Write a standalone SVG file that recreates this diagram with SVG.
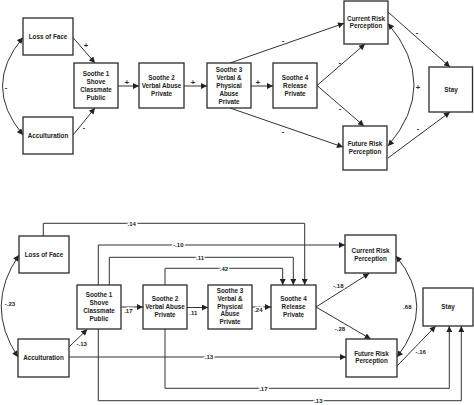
<svg xmlns="http://www.w3.org/2000/svg" width="474" height="405" viewBox="0 0 474 405">
<style>
.box{fill:#fff;stroke:#2b2b2b;stroke-width:1.3}
.t{font-family:"Liberation Sans",Arial,sans-serif;font-weight:bold;font-size:6.3px;fill:#222;text-anchor:middle}
.c{fill:none;stroke:#333;stroke-width:1}
.a{marker-end:url(#ah)}
.d{marker-end:url(#ah);marker-start:url(#ah)}
.l{font-family:"Liberation Sans",Arial,sans-serif;font-weight:bold;font-size:6px;fill:#222;text-anchor:middle;stroke:#fff;stroke-width:3;paint-order:stroke}
.s{font-family:"Liberation Sans",Arial,sans-serif;font-weight:bold;font-size:7.5px;fill:#222;text-anchor:middle}
</style>
<defs>
<marker id="ah" viewBox="0 0 10 10" refX="10" refY="5" markerWidth="8" markerHeight="6" markerUnits="userSpaceOnUse" orient="auto-start-reverse">
<path d="M0,0 L10,5 L0,10 z" fill="#222"/>
</marker>
</defs>
<rect width="474" height="405" fill="#fff"/>

<g id="connectors">
<!-- top -->
<path class="c d" d="M23,37.5 Q-18,86 23,135"/>
<path class="c a" d="M73,37.5 L95,63"/>
<path class="c a" d="M73,135 L95,108"/>
<path class="c a" d="M118,86 H139"/>
<path class="c a" d="M184,86 H207"/>
<path class="c a" d="M251,86 H273"/>
<path class="c a" d="M230,63 L344,23.3"/>
<path class="c a" d="M230,108 L343,147"/>
<path class="c a" d="M317,85.5 L365,44"/>
<path class="c a" d="M317,85.5 L364,126"/>
<path class="c a" d="M388,12 L450,67"/>
<path class="c a" d="M388,158 L450,112"/>
<path class="c d" d="M388,23.5 Q440,85 388,146"/>
<!-- bottom -->
<path class="c d" d="M19,255 Q-16,306 18,357"/>
<path class="c d" d="M396,256 Q437,306 397,357"/>
<path class="c a" d="M43.3,236 V223.3 H304.7 V285"/>
<path class="c a" d="M98.3,285 V245 H345"/>
<path class="c a" d="M109.3,285 V257.3 H293.3 V285"/>
<path class="c a" d="M165,285 V268.3 H282.7 V285"/>
<path class="c a" d="M69,357 H346"/>
<path class="c a" d="M165,329 V388.3 H449.3 V326"/>
<path class="c a" d="M98.3,329 V400.7 H461.3 V326"/>
<path class="c a" d="M121,307 H143"/>
<path class="c a" d="M187,307.5 H208"/>
<path class="c a" d="M252,307 H271"/>
<path class="c a" d="M69,347 L87.3,329.3"/>
<path class="c a" d="M316,307 L369.3,273.3"/>
<path class="c a" d="M316,307 L370.7,339"/>
<path class="c a" d="M397,366 L435.7,326"/>

<!-- top labels -->
<text class="s" x="86" y="47.5">+</text>
<text class="s" x="84" y="129.5">-</text>
<text class="s" x="6" y="89.5">-</text>
<text class="s" x="127" y="84.5">+</text>
<text class="s" x="193" y="84.5">+</text>
<text class="s" x="258" y="84.5">+</text>
<text class="s" x="283" y="42.5">-</text>
<text class="s" x="283" y="133.5">-</text>
<text class="s" x="340" y="64.5">-</text>
<text class="s" x="340" y="110.5">-</text>
<text class="s" x="417" y="34.5">-</text>
<text class="s" x="418" y="130.5">-</text>
<text class="s" x="418" y="89.5">+</text>
<!-- bottom labels -->
<text class="l" x="10" y="306.2">-.23</text>
<text class="l" x="131.7" y="225.5">.14</text>
<text class="l" x="178.3" y="247.2">-.10</text>
<text class="l" x="200" y="259.5">.11</text>
<text class="l" x="224" y="270.5">.42</text>
<text class="l" x="209" y="359.2">.13</text>
<text class="l" x="263.3" y="390.5">.17</text>
<text class="l" x="318.3" y="402.9">.13</text>
<text class="l" x="128.3" y="313.2">.17</text>
<text class="l" x="193.3" y="314.5">.11</text>
<text class="l" x="258.3" y="311.5">.24</text>
<text class="l" x="81.7" y="345.5">-.13</text>
<text class="l" x="338.3" y="288.2">-.18</text>
<text class="l" x="340" y="330.5">-.28</text>
<text class="l" x="420.7" y="353.9">-.16</text>
<text class="l" x="407.3" y="308.9">.68</text>
</g>

<!-- top nodes -->
<g id="t-loss"><rect class="box" x="23" y="18" width="50" height="37"/><text class="t" x="48" y="38.8">Loss of Face</text></g>
<g id="t-accult"><rect class="box" x="23" y="117" width="50" height="37"/><text class="t" x="48" y="137.8">Acculturation</text></g>
<g id="t-s1"><rect class="box" x="74" y="63" width="44" height="45"/><text class="t" x="96" y="75.8">Soothe 1<tspan x="96" dy="8">Shove</tspan><tspan x="96" dy="8">Classmate</tspan><tspan x="96" dy="8">Public</tspan></text></g>
<g id="t-s2"><rect class="box" x="139" y="63" width="45" height="45"/><text class="t" x="161.5" y="79.8">Soothe 2<tspan x="161.5" dy="8">Verbal Abuse</tspan><tspan x="161.5" dy="8">Private</tspan></text></g>
<g id="t-s3"><rect class="box" x="207" y="63" width="44" height="45"/><text class="t" x="229" y="71.8">Soothe 3<tspan x="229" dy="8">Verbal &amp;</tspan><tspan x="229" dy="8">Physical</tspan><tspan x="229" dy="8">Abuse</tspan><tspan x="229" dy="8">Private</tspan></text></g>
<g id="t-s4"><rect class="box" x="273" y="63" width="44" height="45"/><text class="t" x="295" y="79.8">Soothe 4<tspan x="295" dy="8">Release</tspan><tspan x="295" dy="8">Private</tspan></text></g>
<g id="t-current"><rect class="box" x="344" y="1" width="44" height="43"/><text class="t" x="366" y="20.5">Current Risk<tspan x="366" dy="7.8">Perception</tspan></text></g>
<g id="t-future"><rect class="box" x="343" y="126" width="44" height="44"/><text class="t" x="365" y="146.2">Future Risk<tspan x="365" dy="7.8">Perception</tspan></text></g>
<g id="t-stay"><rect class="box" x="429" y="67" width="43.5" height="45"/><text class="t" x="451" y="91.5">Stay</text></g>

<!-- bottom nodes -->
<g id="b-loss"><rect class="box" x="19" y="236" width="50" height="37"/><text class="t" x="44" y="256.6">Loss of Face</text></g>
<g id="b-accult"><rect class="box" x="18" y="339" width="51" height="38"/><text class="t" x="43.5" y="359.6">Acculturation</text></g>
<g id="b-s1"><rect class="box" x="77" y="285" width="44" height="44"/><text class="t" x="99" y="297.3">Soothe 1<tspan x="99" dy="7.8">Shove</tspan><tspan x="99" dy="7.8">Classmate</tspan><tspan x="99" dy="7.8">Public</tspan></text></g>
<g id="b-s2"><rect class="box" x="143" y="285" width="44" height="44"/><text class="t" x="165" y="301.3">Soothe 2<tspan x="165" dy="7.7">Verbal Abuse</tspan><tspan x="165" dy="7.7">Private</tspan></text></g>
<g id="b-s3"><rect class="box" x="208" y="285" width="44" height="44"/><text class="t" x="230" y="293">Soothe 3<tspan x="230" dy="7.8">Verbal &amp;</tspan><tspan x="230" dy="7.8">Physical</tspan><tspan x="230" dy="7.8">Abuse</tspan><tspan x="230" dy="7.8">Private</tspan></text></g>
<g id="b-s4"><rect class="box" x="271" y="285" width="45" height="44"/><text class="t" x="293.5" y="301.3">Soothe 4<tspan x="293.5" dy="7.7">Release</tspan><tspan x="293.5" dy="7.7">Private</tspan></text></g>
<g id="b-current"><rect class="box" x="345" y="235" width="51" height="38"/><text class="t" x="370.5" y="253">Current Risk<tspan x="370.5" dy="7.7">Perception</tspan></text></g>
<g id="b-future"><rect class="box" x="346" y="339" width="51" height="38"/><text class="t" x="371.5" y="355.6">Future Risk<tspan x="371.5" dy="7.7">Perception</tspan></text></g>
<g id="b-stay"><rect class="box" x="423" y="288" width="50" height="38"/><text class="t" x="448" y="309">Stay</text></g>
</svg>
